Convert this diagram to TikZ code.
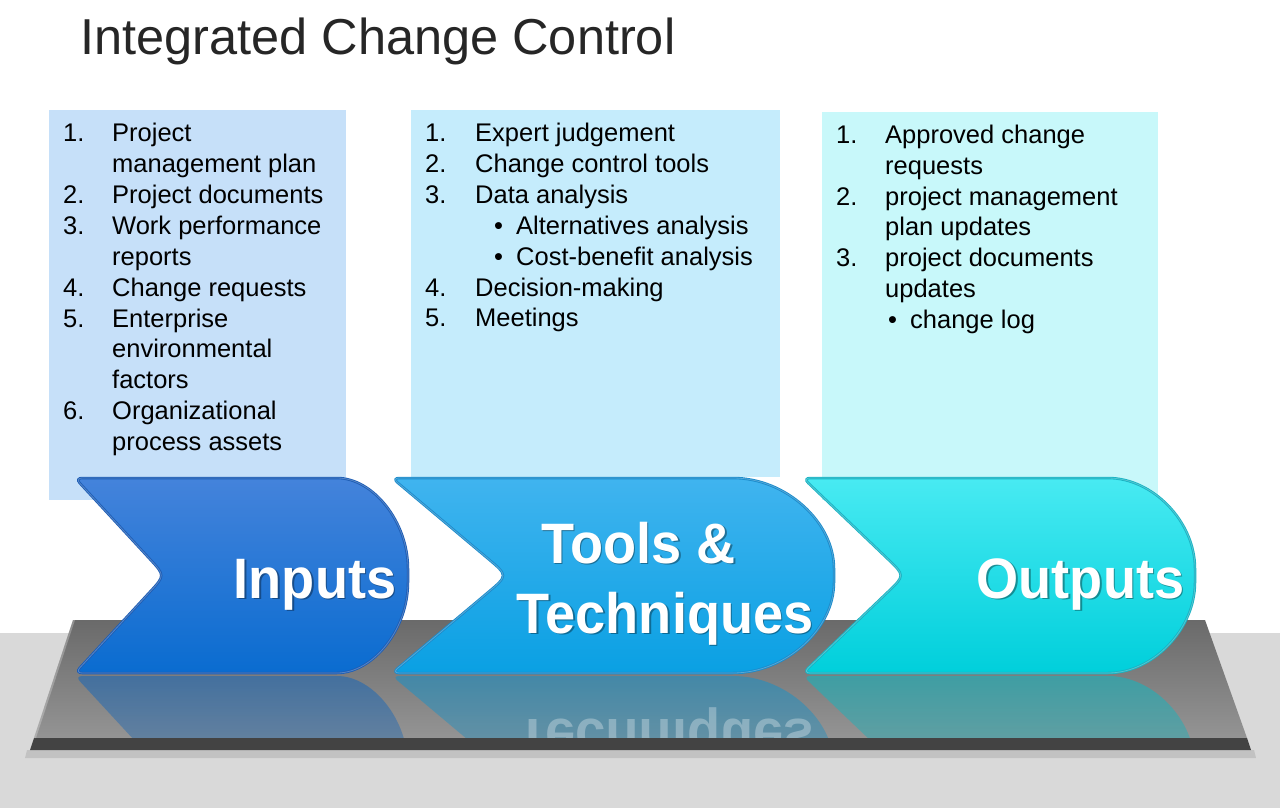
\documentclass[tikz,border=0pt]{standalone}
\usepackage{fontspec}
\setmainfont{Liberation Sans}
\definecolor{floorgray}{HTML}{D9D9D9}
\definecolor{platA}{HTML}{6A6A6A}
\definecolor{platB}{HTML}{949494}
\definecolor{platedge}{HTML}{434343}
\definecolor{boxA}{HTML}{C6E0F9}
\definecolor{boxB}{HTML}{C5ECFC}
\definecolor{boxC}{HTML}{C8F8FA}
\definecolor{inTop}{HTML}{4483DB}
\definecolor{inBot}{HTML}{0A6CD0}
\definecolor{inLine}{HTML}{1D5DB5}
\definecolor{toTop}{HTML}{40B4EF}
\definecolor{toBot}{HTML}{0AA0E3}
\definecolor{toLine}{HTML}{1B8BCB}
\definecolor{ouTop}{HTML}{48EAF2}
\definecolor{ouBot}{HTML}{00CFDB}
\definecolor{ouLine}{HTML}{19B3C3}
\definecolor{titlecol}{HTML}{262626}
\newcommand\cond[1]{\scalebox{0.95}[1]{#1}}
\begin{document}
\begin{tikzpicture}[x=1pt,y=-1pt,
  chev/.style n args={6}{insert path={
    [rounded corners=7] (#1,#5) -- (#3,#5)
    .. controls ({#3+0.5523*(#4-#3)},#5) and (#4,{#5+0.224*(#6-#5)}) .. (#4,{0.5*(#5+#6)})
    .. controls (#4,{#6-0.224*(#6-#5)}) and ({#3+0.5523*(#4-#3)},#6) .. (#3,#6)
    -- (#1,#6) -- ({#1+0.78*(#2-#1)},{#6-0.39*(#6-#5)})
    .. controls (#2,{0.5*(#5+#6)}) .. ({#1+0.78*(#2-#1)},{#5+0.39*(#6-#5)})
    -- cycle}},
  listtxt/.style={inner sep=0pt, anchor=base west, text=black,
    font=\fontsize{25.5}{30}\selectfont},
  biglbl/.style={inner sep=0pt, anchor=base, text=white,
    font=\fontsize{57}{62}\selectfont\bfseries},
  lblshadow/.style={inner sep=0pt, anchor=base, text=black, opacity=0.35,
    font=\fontsize{57}{62}\selectfont\bfseries}
]
\useasboundingbox (0,0) rectangle (1280,808);
\fill[white] (0,0) rectangle (1280,808);
% floor
\fill[floorgray] (0,633) rectangle (1280,808);
% platform shadow
\fill[black,opacity=0.10] (27,750) -- (1254,750) -- (1256,758) -- (25,758) -- cycle;
% platform top
\shade[top color=platA, bottom color=platB]
  (73,620) -- (1205,620) -- (1247,738) -- (34,738) -- cycle;
% reflections
\begin{scope}
  \clip (73,620) -- (1205,620) -- (1247,738) -- (34,738) -- cycle;
  \shade[top color=inBot!65!platA, bottom color=platB, opacity=0.7]
    [chev={75}{165}{330}{408}{676}{871}];
  \shade[top color=toBot!65!platA, bottom color=platB, opacity=0.7]
    [chev={392}{508}{726}{834}{676}{871}];
  \shade[top color=ouBot!65!platA, bottom color=platB, opacity=0.7]
    [chev={803}{905}{1101}{1195}{676}{871}];
  \node[lblshadow, text=white, opacity=0.3, yscale=-1, transform shape]
    (refl) at (665,719) {\cond{Techniques}};
\end{scope}
% platform front edge
\fill[platedge] (34,738) -- (1247,738) -- (1251,750) -- (30,750) -- cycle;
\fill[white,opacity=0.25] (73,620) -- (75,620) -- (36,738) -- (34,738) -- cycle;

% title
\node[inner sep=0pt, anchor=base west, text=titlecol,
  font=\fontsize{50.5}{56}\selectfont] (title) at (80,55) {Integrated Change Control};

% boxes
\fill[boxA] (49,110) rectangle (346,500);
\fill[boxB] (411,110) rectangle (780,477);
\fill[boxC] (822,112) rectangle (1158,500);

% box 1 list
\foreach \yy/\q in {141/Project, 172/management plan, 203/Project documents,
  234/Work performance, 265/reports, 296/Change requests, 327/Enterprise,
  357/environmental, 388/factors, 419/Organizational, 450/process assets}
  {\node[listtxt] (a\yy) at (112,\yy) {\q};}
\foreach \yy/\q in {141/1., 203/2., 234/3., 296/4., 327/5., 419/6.}
  {\node[listtxt] (an\yy) at (63,\yy) {\q};}

% box 2 list
\foreach \yy/\q in {141/Expert judgement, 172/Change control tools, 203/Data analysis,
  296/Decision-making, 326/Meetings}
  {\node[listtxt] (b\yy) at (475,\yy) {\q};}
\foreach \yy/\q in {141/1., 172/2., 203/3., 296/4., 326/5.}
  {\node[listtxt] (bn\yy) at (425,\yy) {\q};}
\foreach \yy/\q in {234/Alternatives analysis, 265/Cost-benefit analysis}
  {\node[listtxt] (bb\yy) at (516,\yy) {\q};
   \node[listtxt] (bbd\yy) at (494,\yy) {•};}

% box 3 list
\foreach \yy/\q in {143.5/Approved change, 174.3/requests, 205.1/project management,
  235.9/plan updates, 266.7/project documents, 297.5/updates}
  {\node[listtxt] (c\yy) at (885,\yy) {\q};}
\foreach \yy/\q in {143.5/1., 205.1/2., 266.7/3.}
  {\node[listtxt] (cn\yy) at (836,\yy) {\q};}
\node[listtxt] (cb) at (910,328.3) {change log};
\node[listtxt] (cbd) at (888,328.3) {•};

% chevrons
\shade[top color=inTop, bottom color=inBot, draw=inLine, line width=2.5pt]
  [chev={75}{165}{330}{408}{478}{673}];
\draw[white, opacity=0.25, line width=0.8pt] [chev={75}{165}{330}{408}{478}{673}];
\shade[top color=toTop, bottom color=toBot, draw=toLine, line width=2.5pt]
  [chev={392}{508}{726}{834}{478}{673}];
\draw[white, opacity=0.25, line width=0.8pt] [chev={392}{508}{726}{834}{478}{673}];
\shade[top color=ouTop, bottom color=ouBot, draw=ouLine, line width=2.5pt]
  [chev={803}{905}{1101}{1195}{478}{673}];
\draw[white, opacity=0.25, line width=0.8pt] [chev={803}{905}{1101}{1195}{478}{673}];

% chevron labels
\node[lblshadow] (s1) at (316.5,599.5) {\cond{Inputs}};
\node[biglbl] (l1) at (315,598) {\cond{Inputs}};
\node[lblshadow] (s2) at (640,564.5) {\cond{Tools \&}};
\node[biglbl] (l2) at (638.5,563) {\cond{Tools \&}};
\node[lblshadow] (s3) at (666.5,634.5) {\cond{Techniques}};
\node[biglbl] (l3) at (665,633) {\cond{Techniques}};
\node[lblshadow] (s4) at (1082,599.5) {\cond{Outputs}};
\node[biglbl] (l4) at (1080.5,598) {\cond{Outputs}};
\end{tikzpicture}
\end{document}
